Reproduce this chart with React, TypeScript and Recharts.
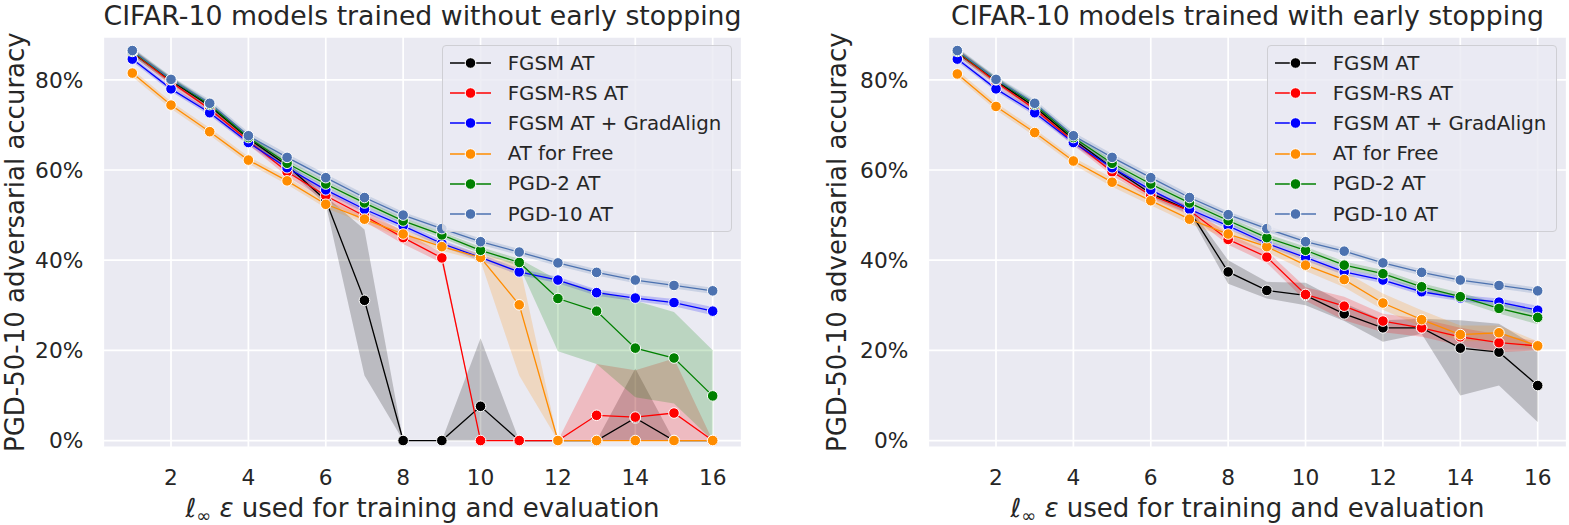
import React from "react";
import { ComposedChart, Line, Area, XAxis, YAxis, CartesianGrid, Legend } from "recharts";

const EPS = [1, 2, 3, 4, 5, 6, 7, 8, 9, 10, 11, 12, 13, 14, 15, 16];
const X_TICKS = [2, 4, 6, 8, 10, 12, 14, 16];
const Y_TICKS = [0, 20, 40, 60, 80];

// --- trained without early stopping ---
const noStopFgsm = [86.0, 79.8, 74.2, 67.0, 61.0, 53.3, 31.1, 0, 0, 7.6, 0, 0, 0, 5.0, 0, 0];
const noStopFgsmLo = [85.3, 79.0, 73.4, 66.2, 60.2, 52.4, 14.4, 0, 0, 0, 0, 0, 0, 0, 0, 0];
const noStopFgsmHi = [86.7, 80.6, 75.0, 67.8, 61.8, 54.2, 46.8, 0, 0, 22.7, 0, 0, 0, 16.0, 0, 0];
const noStopRs = [86.2, 79.5, 73.5, 66.5, 59.6, 54.3, 49.8, 45.0, 40.5, 0, 0, 0, 5.6, 5.2, 6.1, 0];
const noStopRsLo = [85.4, 78.7, 72.6, 65.6, 58.6, 53.2, 48.6, 43.6, 39.4, 0, 0, 0, 0, 0, 0, 0];
const noStopRsHi = [87.0, 80.3, 74.4, 67.4, 60.6, 55.4, 51.0, 46.4, 41.6, 0, 0, 0, 17.0, 15.6, 18.2, 0];
const noStopGa = [84.6, 78.0, 72.7, 66.1, 60.5, 55.6, 51.3, 47.6, 43.7, 40.6, 37.4, 35.6, 32.8, 31.6, 30.6, 28.7];
const noStopGaLo = [84.0, 77.4, 72.1, 65.5, 59.8, 54.9, 50.6, 46.9, 43.0, 39.9, 36.7, 34.9, 32.1, 30.9, 29.8, 27.8];
const noStopGaHi = [85.2, 78.6, 73.3, 66.7, 61.2, 56.3, 52.0, 48.3, 44.4, 41.3, 38.1, 36.3, 33.5, 32.3, 31.4, 29.6];
const noStopFree = [81.5, 74.4, 68.5, 62.2, 57.6, 52.4, 49.1, 45.8, 43.0, 40.6, 30.1, 0, 0, 0, 0, 0];
const noStopFreeLo = [80.7, 73.6, 67.7, 61.4, 56.8, 51.6, 48.2, 44.9, 42.1, 39.8, 14.4, 0, 0, 0, 0, 0];
const noStopFreeHi = [82.3, 75.2, 69.3, 63.0, 58.4, 53.2, 50.0, 46.7, 43.9, 41.4, 39.3, 0, 0, 0, 0, 0];
const noStopPgd2 = [86.3, 80.0, 74.5, 67.2, 61.5, 56.9, 52.7, 48.7, 45.6, 42.2, 39.5, 31.5, 28.7, 20.5, 18.3, 9.9];
const noStopPgd2Lo = [85.6, 79.3, 73.8, 66.5, 60.8, 56.2, 52.0, 48.0, 44.9, 41.5, 38.7, 19.8, 17.0, 9.6, 8.2, 0];
const noStopPgd2Hi = [87.0, 80.7, 75.2, 67.9, 62.2, 57.6, 53.4, 49.4, 46.3, 42.9, 40.3, 35.6, 33.3, 31.0, 28.5, 20.0];
const noStopPgd10 = [86.5, 80.1, 74.8, 67.6, 62.8, 58.3, 53.9, 50.0, 47.0, 44.1, 41.8, 39.4, 37.3, 35.6, 34.4, 33.2];
const noStopPgd10Lo = [85.8, 79.4, 74.0, 66.8, 62.0, 57.5, 53.1, 49.3, 46.3, 43.4, 41.1, 38.7, 36.6, 34.9, 33.7, 32.5];
const noStopPgd10Hi = [87.2, 80.8, 75.6, 68.4, 63.6, 59.1, 54.7, 50.7, 47.7, 44.8, 42.5, 40.1, 38.0, 36.3, 35.1, 33.9];

// --- trained with early stopping ---
const esFgsm = [86.0, 79.8, 74.0, 66.8, 60.5, 54.8, 51.0, 37.4, 33.3, 32.2, 28.1, 25.0, 25.0, 20.5, 19.6, 12.2];
const esFgsmLo = [85.3, 79.0, 73.2, 66.0, 59.7, 54.0, 50.2, 34.8, 31.5, 30.0, 26.5, 21.9, 23.7, 10.0, 12.2, 4.1];
const esFgsmHi = [86.7, 80.6, 74.8, 67.6, 61.3, 55.6, 51.8, 40.0, 35.2, 35.0, 30.5, 26.7, 27.0, 26.7, 25.9, 20.7];
const esRs = [86.2, 79.5, 73.5, 66.3, 59.6, 54.4, 51.0, 44.6, 40.7, 32.4, 29.8, 26.5, 25.0, 23.0, 21.7, 21.0];
const esRsLo = [85.4, 78.7, 72.7, 65.5, 58.8, 53.6, 50.0, 43.4, 39.4, 31.0, 26.7, 24.0, 23.0, 21.0, 19.6, 20.0];
const esRsHi = [87.0, 80.3, 74.3, 67.1, 60.4, 55.2, 52.0, 45.8, 42.0, 34.0, 31.9, 28.1, 27.0, 25.0, 23.5, 22.0];
const esGa = [84.6, 78.0, 72.7, 66.1, 60.5, 55.6, 51.3, 47.6, 43.7, 40.6, 37.4, 35.6, 33.0, 31.6, 30.7, 28.9];
const esGaLo = [84.0, 77.4, 72.1, 65.5, 59.8, 54.9, 50.6, 46.9, 43.0, 39.9, 36.7, 34.9, 32.3, 30.9, 29.9, 27.9];
const esGaHi = [85.2, 78.6, 73.3, 66.7, 61.2, 56.3, 52.0, 48.3, 44.4, 41.3, 38.1, 36.3, 33.7, 32.3, 31.5, 29.9];
const esFree = [81.3, 74.1, 68.3, 62.0, 57.3, 53.2, 49.1, 45.8, 43.0, 38.9, 35.7, 30.5, 26.8, 23.5, 23.9, 21.0];
const esFreeLo = [80.5, 73.3, 67.5, 61.2, 56.3, 52.2, 48.1, 44.8, 41.8, 37.6, 34.0, 29.0, 25.2, 22.0, 22.0, 20.0];
const esFreeHi = [82.1, 74.9, 69.1, 62.8, 58.3, 54.2, 50.1, 46.8, 44.2, 40.2, 37.5, 32.6, 28.9, 25.5, 25.5, 22.0];
const esPgd2 = [86.3, 80.0, 74.5, 67.2, 61.5, 56.9, 52.7, 48.8, 45.0, 42.2, 38.9, 37.0, 34.1, 31.9, 29.3, 27.3];
const esPgd2Lo = [85.6, 79.3, 73.8, 66.5, 60.8, 56.2, 52.0, 48.0, 44.2, 41.4, 38.1, 36.2, 33.3, 31.0, 28.2, 25.8];
const esPgd2Hi = [87.0, 80.7, 75.2, 67.9, 62.2, 57.6, 53.4, 49.6, 45.8, 43.0, 39.7, 37.8, 34.9, 32.8, 30.4, 28.8];
const esPgd10 = [86.5, 80.1, 74.8, 67.6, 62.8, 58.3, 53.9, 50.1, 47.0, 44.1, 42.0, 39.4, 37.3, 35.6, 34.4, 33.2];
const esPgd10Lo = [85.8, 79.4, 74.0, 66.8, 62.0, 57.5, 53.1, 49.4, 46.3, 43.4, 41.3, 38.7, 36.6, 34.9, 33.7, 32.5];
const esPgd10Hi = [87.2, 80.8, 75.6, 68.4, 63.6, 59.1, 54.7, 50.8, 47.7, 44.8, 42.7, 40.1, 38.0, 36.3, 35.1, 33.9];

const SERIES = [
  { key: "fgsm", name: "FGSM AT", color: "#000000" },
  { key: "rs", name: "FGSM-RS AT", color: "#ff0000" },
  { key: "ga", name: "FGSM AT + GradAlign", color: "#0000ff" },
  { key: "free", name: "AT for Free", color: "#ff8c00" },
  { key: "pgd2", name: "PGD-2 AT", color: "#008000" },
  { key: "pgd10", name: "PGD-10 AT", color: "#4c72b0" },
];

type Band = { mean: number[]; lo: number[]; hi: number[] };

const NO_STOP: Record<string, Band> = {
  fgsm: { mean: noStopFgsm, lo: noStopFgsmLo, hi: noStopFgsmHi },
  rs: { mean: noStopRs, lo: noStopRsLo, hi: noStopRsHi },
  ga: { mean: noStopGa, lo: noStopGaLo, hi: noStopGaHi },
  free: { mean: noStopFree, lo: noStopFreeLo, hi: noStopFreeHi },
  pgd2: { mean: noStopPgd2, lo: noStopPgd2Lo, hi: noStopPgd2Hi },
  pgd10: { mean: noStopPgd10, lo: noStopPgd10Lo, hi: noStopPgd10Hi },
};

const EARLY_STOP: Record<string, Band> = {
  fgsm: { mean: esFgsm, lo: esFgsmLo, hi: esFgsmHi },
  rs: { mean: esRs, lo: esRsLo, hi: esRsHi },
  ga: { mean: esGa, lo: esGaLo, hi: esGaHi },
  free: { mean: esFree, lo: esFreeLo, hi: esFreeHi },
  pgd2: { mean: esPgd2, lo: esPgd2Lo, hi: esPgd2Hi },
  pgd10: { mean: esPgd10, lo: esPgd10Lo, hi: esPgd10Hi },
};

function buildRows(set: Record<string, Band>) {
  return EPS.map((x, i) => {
    const row: any = { x };
    SERIES.forEach((s) => {
      row[s.key] = set[s.key].mean[i];
      row[s.key + "Band"] = [set[s.key].lo[i], set[s.key].hi[i]];
    });
    return row;
  });
}

const FONT = '"DejaVu Sans", Verdana, sans-serif';
const TEXT = "#262626";
const BG = "#eaeaf2";

function LegendBox() {
  return (
    <div
      style={{
        boxSizing: "border-box",
        width: 290,
        height: 187,
        background: "rgba(234,234,242,0.8)",
        border: "1px solid #cfcfd4",
        borderRadius: 4,
        paddingTop: 2,
        fontFamily: FONT,
        fontSize: 19.8,
        color: TEXT,
      }}
    >
      {SERIES.map((s) => (
        <div key={s.key} style={{ height: 30.2, display: "flex", alignItems: "center" }}>
          <svg width={65} height={30} style={{ flex: "none" }}>
            <line x1={7} x2={48} y1={15} y2={15} stroke={s.color} strokeWidth={1.3} />
            <circle cx={27.5} cy={15} r={5.3} fill={s.color} stroke="#ffffff" strokeWidth={1} />
          </svg>
          <span style={{ whiteSpace: "nowrap" }}>{s.name}</span>
        </div>
      ))}
    </div>
  );
}

type PanelProps = {
  rows: any[];
  width: number;
  marginLeft: number;
  marginRight: number;
  legendLeft: number;
  yLabelX: number;
};

function Panel({ rows, width, marginLeft, marginRight, legendLeft, yLabelX }: PanelProps) {
  return (
    <ComposedChart
      width={width}
      height={525}
      data={rows}
      margin={{ top: 37, right: marginRight, bottom: 47.7, left: marginLeft }}
    >
      <CartesianGrid fill={BG} stroke="#ffffff" strokeWidth={1.7} />
      <XAxis
        dataKey="x"
        type="number"
        domain={[0.25, 16.75]}
        ticks={X_TICKS}
        axisLine={false}
        tickLine={false}
        tickSize={0}
        tickMargin={22}
        height={30}
        tick={{ fontSize: 21.7, fill: TEXT, fontFamily: FONT }}
        label={{
          content: (p: any) => {
            const vb = p.viewBox || {};
            const cx = vb.x + vb.width / 2;
            return (
              <text x={cx} y={517} textAnchor="middle" fontSize={26} fill={TEXT} fontFamily={FONT}>
                <tspan fontStyle="italic">ℓ</tspan>
                <tspan fontSize={18} dy={5}>∞</tspan>
                <tspan dy={-5}> </tspan>
                <tspan fontStyle="italic">ε</tspan>
                <tspan> used for training and evaluation</tspan>
              </text>
            );
          },
        }}
      />
      <YAxis
        type="number"
        domain={[-1.5, 89.5]}
        ticks={Y_TICKS}
        axisLine={false}
        tickLine={false}
        tickSize={0}
        tickMargin={20}
        width={90}
        tickFormatter={(v: number) => `${v}%`}
        tick={{ fontSize: 21.7, fill: TEXT, fontFamily: FONT }}
        label={{
          content: (p: any) => {
            const vb = p.viewBox || {};
            const cy = vb.y + vb.height / 2;
            return (
              <text
                x={yLabelX}
                y={cy}
                transform={`rotate(-90 ${yLabelX} ${cy})`}
                textAnchor="middle"
                fontSize={26}
                fill={TEXT}
                fontFamily={FONT}
              >
                PGD-50-10 adversarial accuracy
              </text>
            );
          },
        }}
      />
      {SERIES.map((s) => (
        <Area
          key={s.key + "Band"}
          type="linear"
          dataKey={s.key + "Band"}
          stroke="none"
          fill={s.color}
          fillOpacity={0.2}
          isAnimationActive={false}
          activeDot={false}
          legendType="none"
        />
      ))}
      {SERIES.map((s) => (
        <Line
          key={s.key}
          type="linear"
          dataKey={s.key}
          name={s.name}
          stroke={s.color}
          strokeWidth={1.3}
          dot={{ r: 5.3, fill: s.color, stroke: "#ffffff", strokeWidth: 1 }}
          activeDot={false}
          isAnimationActive={false}
        />
      ))}
      <Legend
        layout="vertical"
        align="center"
        verticalAlign="middle"
        content={() => <LegendBox />}
        wrapperStyle={{ left: legendLeft, top: 45, width: 290, height: 187 }}
      />
    </ComposedChart>
  );
}

export default function App() {
  const noStopRows = buildRows(NO_STOP);
  const earlyRows = buildRows(EARLY_STOP);
  return (
    <div
      style={{
        position: "absolute",
        left: 0,
        top: 0,
        width: 1569,
        height: 525,
        background: "#ffffff",
        fontFamily: FONT,
      }}
    >
      <div style={{ position: "absolute", left: 0, top: 0 }}>
        <Panel rows={noStopRows} width={780} marginLeft={13.3} marginRight={38.3} legendLeft={441.7} yLabelX={24} />
      </div>
      <div style={{ position: "absolute", left: 780, top: 0 }}>
        <Panel rows={earlyRows} width={789} marginLeft={58.3} marginRight={2.3} legendLeft={486.7} yLabelX={65.7} />
      </div>
      <svg
        width={1569}
        height={40}
        style={{ position: "absolute", left: 0, top: 0, pointerEvents: "none" }}
      >
        <text
          x={422.5}
          y={25}
          textAnchor="middle"
          fontSize={27}
          fill={TEXT}
          fontFamily={FONT}
          textLength={638}
          lengthAdjust="spacingAndGlyphs"
        >
          CIFAR-10 models trained without early stopping
        </text>
        <text
          x={1247.5}
          y={25}
          textAnchor="middle"
          fontSize={27}
          fill={TEXT}
          fontFamily={FONT}
          textLength={593}
          lengthAdjust="spacingAndGlyphs"
        >
          CIFAR-10 models trained with early stopping
        </text>
      </svg>
    </div>
  );
}
